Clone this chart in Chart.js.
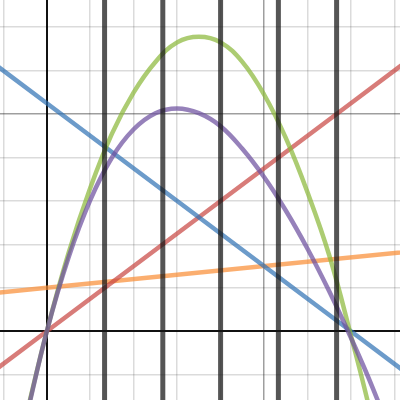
<!DOCTYPE html>
<html><head><meta charset="utf-8">
<script src="https://cdn.jsdelivr.net/npm/chart.js@4.4.1/dist/chart.umd.min.js"></script>
<style>html,body{margin:0;padding:0;background:#fff;overflow:hidden}#wrap{width:400px;height:400px;position:relative}</style>
</head><body><div id="wrap"><canvas id="c"></canvas></div>
<script>
// Visible window (graph units)
const xRange = [-1.077, 8.129];
const yRange = [-1.581, 7.625];
const gridStep = 1;
const majorEvery = 5;

// Straight lines
const lineXs = [-2, 0, 7, 10];
const blueYs = [6.75, 5.25, 0, -2.25];
const redYs = [-1.5, 0, 5.25, 7.5];
const orangeXs = [-2, 0, 10];
const orangeYs = [0.8, 1.0, 2.0];

// Curves
const curveXs = [-0.5, 0, 0.5, 1, 1.5, 2, 2.5, 3, 3.5, 4, 4.5, 5, 5.5, 6, 6.5, 7, 7.5, 8];
const greenYs = [-2.05, 0, 1.8, 3.3, 4.55, 5.5, 6.2, 6.65, 6.78, 6.65, 6.2, 5.45, 4.45, 3.2, 1.75, -0.1, -2.1, -4.5];
const purpleYs = [-2.1, 0, 1.7, 3.02, 4.0, 4.65, 5.02, 5.13, 5.02, 4.72, 4.2, 3.55, 2.78, 1.9, 0.92, -0.15, -1.3, -2.6];

// Thick vertical lines
const markerXs = [1.33, 2.67, 4.0, 5.33, 6.67];

const pts = (xs, ys) => xs.map((x, i) => ({x: x, y: ys[i]}));

const datasets = [];
markerXs.forEach(x => {
  datasets.push({
    data: [{x: x, y: yRange[0] - 2}, {x: x, y: yRange[1] + 2}],
    borderColor: 'rgba(20,20,20,0.72)', borderWidth: 5, pointRadius: 0,
    showLine: true, order: 0
  });
});
datasets.push({data: pts(curveXs, purpleYs), borderColor: 'rgba(110,80,160,0.72)', borderWidth: 4.5, pointRadius: 0, showLine: true, tension: 0.4, order: 1});
datasets.push({data: pts(curveXs, greenYs), borderColor: 'rgba(140,185,60,0.72)', borderWidth: 4.5, pointRadius: 0, showLine: true, tension: 0.4, order: 2});
datasets.push({data: pts(lineXs, blueYs), borderColor: 'rgba(45,112,179,0.7)', borderWidth: 4.5, pointRadius: 0, showLine: true, order: 3});
datasets.push({data: pts(lineXs, redYs), borderColor: 'rgba(199,68,64,0.7)', borderWidth: 4.5, pointRadius: 0, showLine: true, order: 4});
datasets.push({data: pts(orangeXs, orangeYs), borderColor: 'rgba(250,140,50,0.7)', borderWidth: 4.5, pointRadius: 0, showLine: true, order: 5});

function intTicks(scale) {
  const t = [];
  for (let v = Math.ceil(scale.min / gridStep) * gridStep; v <= scale.max; v += gridStep) t.push({value: v});
  scale.ticks = t;
}
function gridColor(ctx) {
  const v = ctx.tick && ctx.tick.value;
  if (v === 0) return '#111';
  if (Math.round(v) % majorEvery === 0) return 'rgba(0,0,0,0.38)';
  return 'rgba(0,0,0,0.14)';
}
function gridWidth(ctx) {
  const v = ctx.tick && ctx.tick.value;
  return v === 0 ? 2 : 1.5;
}
const axis = (r) => ({
  type: 'linear', min: r[0], max: r[1],
  afterBuildTicks: intTicks,
  ticks: {display: false},
  border: {display: false},
  grid: {drawTicks: false, color: gridColor, lineWidth: gridWidth}
});

new Chart(document.getElementById('c'), {
  type: 'scatter',
  data: {datasets: datasets},
  options: {
    responsive: true, maintainAspectRatio: false, animation: false,
    layout: {padding: 0},
    plugins: {legend: {display: false}, tooltip: {enabled: false}},
    scales: {x: axis(xRange), y: axis(yRange)}
  }
});
</script></body></html>
